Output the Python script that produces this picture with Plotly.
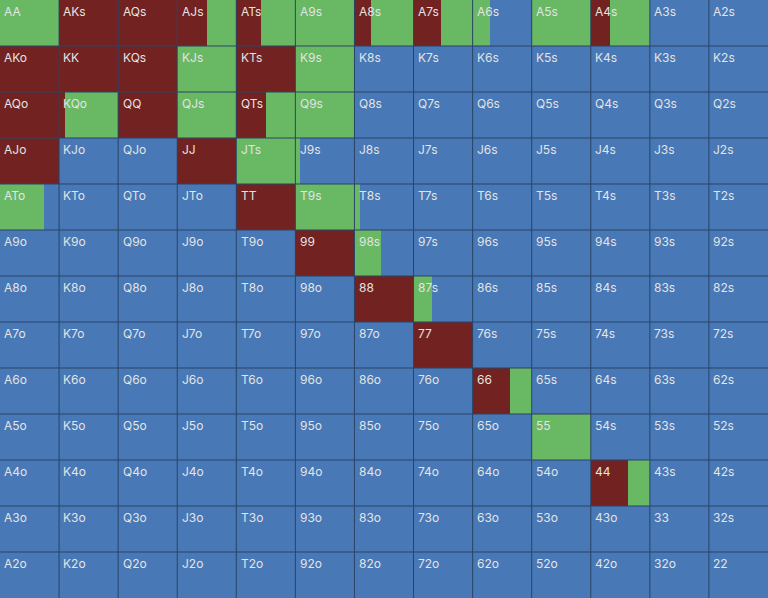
import plotly.graph_objects as go

ranks = ["A","K","Q","J","T","9","8","7","6","5","4","3","2"]
# fractions per cell: (raise, call); fold is remainder
raise_frac = {
 "AKs":1,"AQs":1,"AJs":0.5,"ATs":0.42,"A8s":0.28,"A7s":0.47,"A4s":0.33,
 "AKo":1,"KK":1,"KQs":1,"KTs":1,
 "AQo":1,"KQo":0.1,"QQ":1,"QTs":0.5,
 "AJo":1,"JJ":1,"TT":1,"99":1,"88":1,"77":1,"66":0.64,"44":0.63,
}
call_frac = {
 "AA":1,"AJs":0.5,"ATs":0.58,"A9s":1,"A8s":0.72,"A7s":0.53,"A6s":0.29,"A5s":1,"A4s":0.67,
 "KJs":1,"K9s":1,"KQo":0.9,"QJs":1,"QTs":0.5,"Q9s":1,
 "JTs":1,"J9s":0.08,"ATo":0.75,"T9s":1,"T8s":0.1,"98s":0.45,"87s":0.32,
 "66":0.36,"55":1,"44":0.37,
}

def label(r, c):
    if r == c: return ranks[r]*2
    if c > r: return ranks[r]+ranks[c]+"s"
    return ranks[c]+ranks[r]+"o"

labels, rows, cols = [], [], []
for r in range(13):
    for c in range(13):
        labels.append(label(r, c)); rows.append(r); cols.append(c)

rv = [raise_frac.get(l, 0) for l in labels]
cv = [call_frac.get(l, 0) for l in labels]
fv = [max(0, 1 - a - b) for a, b in zip(rv, cv)]

fig = go.Figure()
specs = [("Raise", rv, [0]*169, "#722220"),
         ("Call", cv, rv, "#68b864"),
         ("Fold", fv, [a+b for a, b in zip(rv, cv)], "#4878b6")]
for name, vals, off, color in specs:
    fig.add_trace(go.Bar(
        orientation="h", name=name,
        x=vals, base=[c+o for c, o in zip(cols, off)],
        y=[r+0.5 for r in rows], width=1.0,
        marker=dict(color=color, line=dict(width=0)),
        hoverinfo="skip", showlegend=False))

for i, l in enumerate(labels):
    fig.add_annotation(x=cols[i]+0.04, y=rows[i]+0.05, text=l, showarrow=False,
                       xanchor="left", yanchor="top", xref="x", yref="y",
                       font=dict(color="#e4e4e4", size=12, family="Inter"))

for k in range(1, 13):
    fig.add_shape(type="line", x0=k, x1=k, y0=0, y1=13, xref="x", yref="y",
                  line=dict(color="#2a4466", width=1), layer="above")
    fig.add_shape(type="line", x0=0, x1=13, y0=k, y1=k, xref="x", yref="y",
                  line=dict(color="#2a4466", width=1), layer="above")

fig.update_layout(
    width=768, height=598, margin=dict(l=0, r=0, t=0, b=0),
    barmode="overlay", bargap=0,
    paper_bgcolor="white", plot_bgcolor="white",
    xaxis=dict(range=[0, 13], visible=False, fixedrange=True),
    yaxis=dict(range=[13, 0], visible=False, fixedrange=True),
)
fig.write_html("out.html", config={"displayModeBar": False},
               post_script="document.body.style.margin='0';document.body.style.overflow='hidden';")
